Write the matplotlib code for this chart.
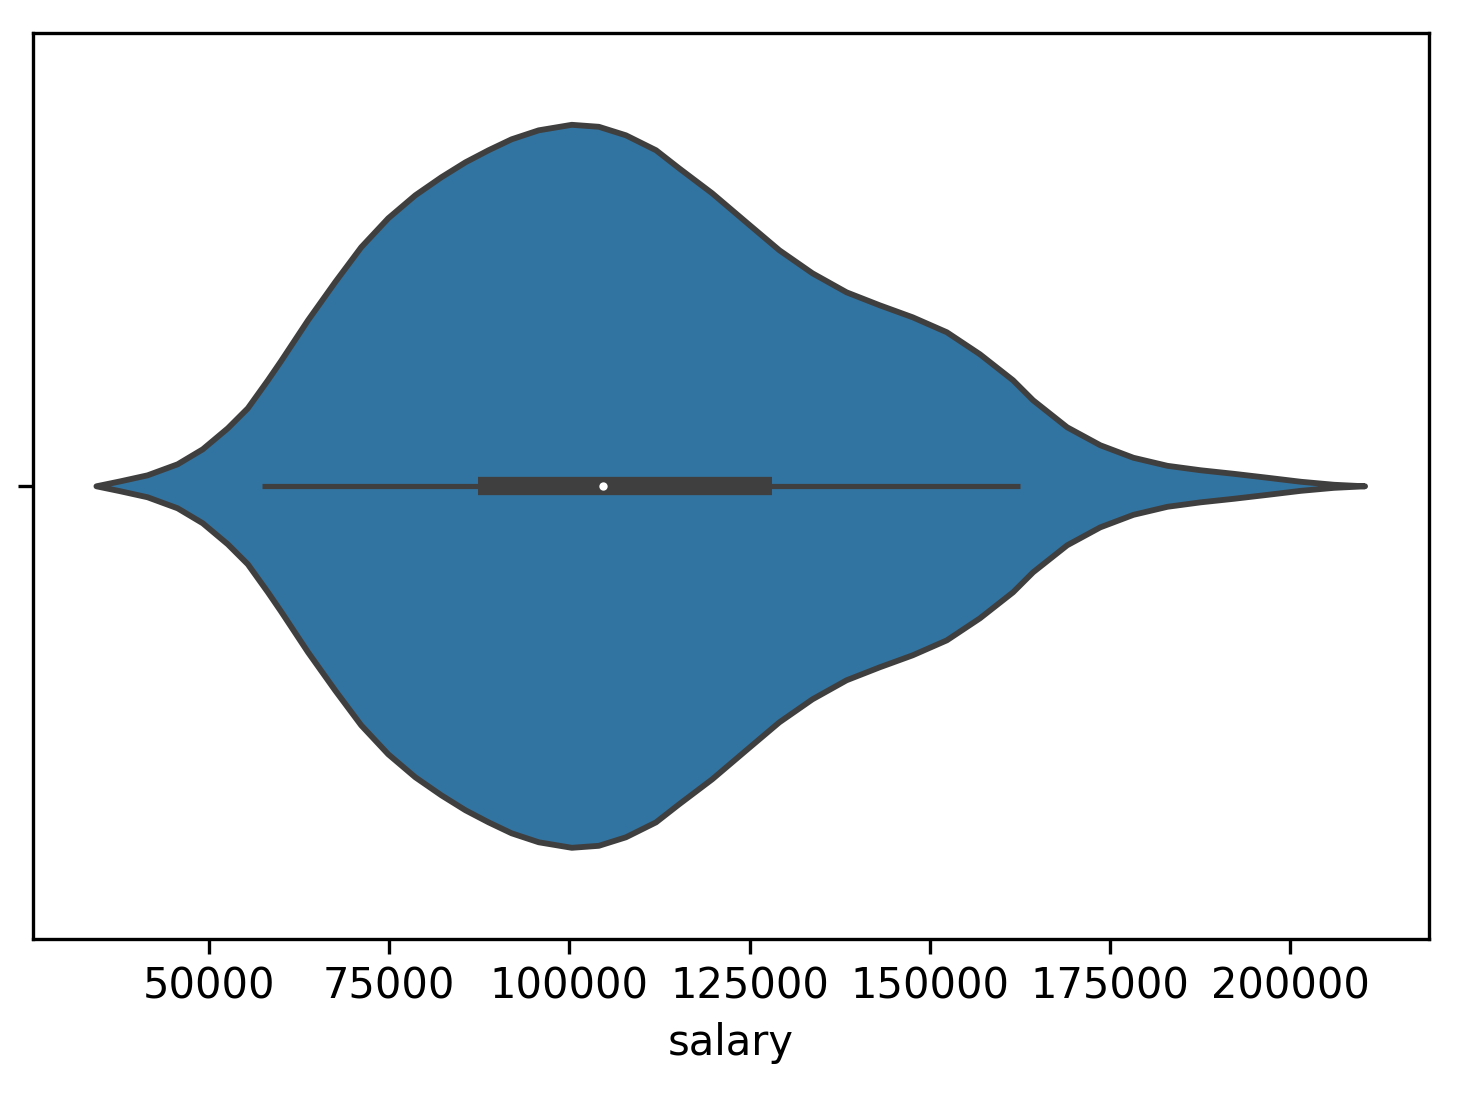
import numpy as np
import matplotlib
matplotlib.use("Agg")
import matplotlib.pyplot as plt

# Violin outline: salary grid and half-width (density, scaled)
salary_grid = [34423, 37761, 41516, 45689, 49166, 52643, 55424, 58206, 60014, 63769, 67524,
               71140, 74895, 78650, 82267, 85604, 88803, 92002, 95757, 100347, 104102,
               107857, 112030, 115229, 119818, 124547, 129137, 133726, 138455, 143045,
               147634, 152363, 156953, 161542, 164324, 169052, 173642, 178232, 182960,
               187550, 192140, 196868, 201458, 206048, 210359]
half_width = [0.0, 0.0055, 0.0121, 0.0243, 0.0408, 0.0640, 0.0861, 0.1170, 0.1380, 0.1832, 0.2252,
              0.2638, 0.2958, 0.3212, 0.3411, 0.3576, 0.3709, 0.3830, 0.3929, 0.3990, 0.3968,
              0.3874, 0.3709, 0.3510, 0.3234, 0.2914, 0.2605, 0.2351, 0.2141, 0.1998,
              0.1865, 0.1700, 0.1457, 0.1170, 0.0949, 0.0651, 0.0453, 0.0315, 0.0226,
              0.0177, 0.0138, 0.0094, 0.0050, 0.0017, 0.0]

# Box statistics
whisker_low, q1, median, q3, whisker_high = 57371, 87273, 104701, 128120, 162516

xtick_values = [50000, 75000, 100000, 125000, 150000, 175000, 200000]
xtick_labels = ["50000", "75000", "100000", "125000", "150000", "175000", "200000"]

fill_color = "#3274a1"
edge_color = "#3f3f3f"

fig = plt.figure(figsize=(1462 / 300, 1095 / 300), dpi=300)
ax = fig.add_axes([33 / 1462, (1095 - 939.3) / 1095, (1428.5 - 33) / 1462, 906 / 1095])

s = np.array(salary_grid, dtype=float)
hw = np.array(half_width, dtype=float)
xs = np.concatenate([s, s[::-1]])
ys = np.concatenate([hw, -hw[::-1]])
ax.fill(xs, ys, facecolor=fill_color, edgecolor=edge_color, linewidth=1.4,
        joinstyle="round", zorder=1)

ax.plot([whisker_low, whisker_high], [0, 0], color=edge_color, linewidth=1.25,
        solid_capstyle="butt", zorder=2)
ax.plot([q1, q3], [0, 0], color=edge_color, linewidth=4.4, solid_capstyle="butt", zorder=3)
ax.plot([median], [0], marker="o", color="white", markersize=2.0,
        markeredgewidth=0, zorder=4)

ax.set_ylim(0.5, -0.5)
ax.margins(x=0.05)
ax.set_yticks([0])
ax.set_yticklabels([""])
ax.set_xticks(xtick_values)
ax.set_xticklabels(xtick_labels)
ax.tick_params(axis="x", labelsize=10, pad=2.8)
ax.set_xlabel("salary", fontsize=10, labelpad=3.5)

fig.savefig("out.png", dpi=300)
